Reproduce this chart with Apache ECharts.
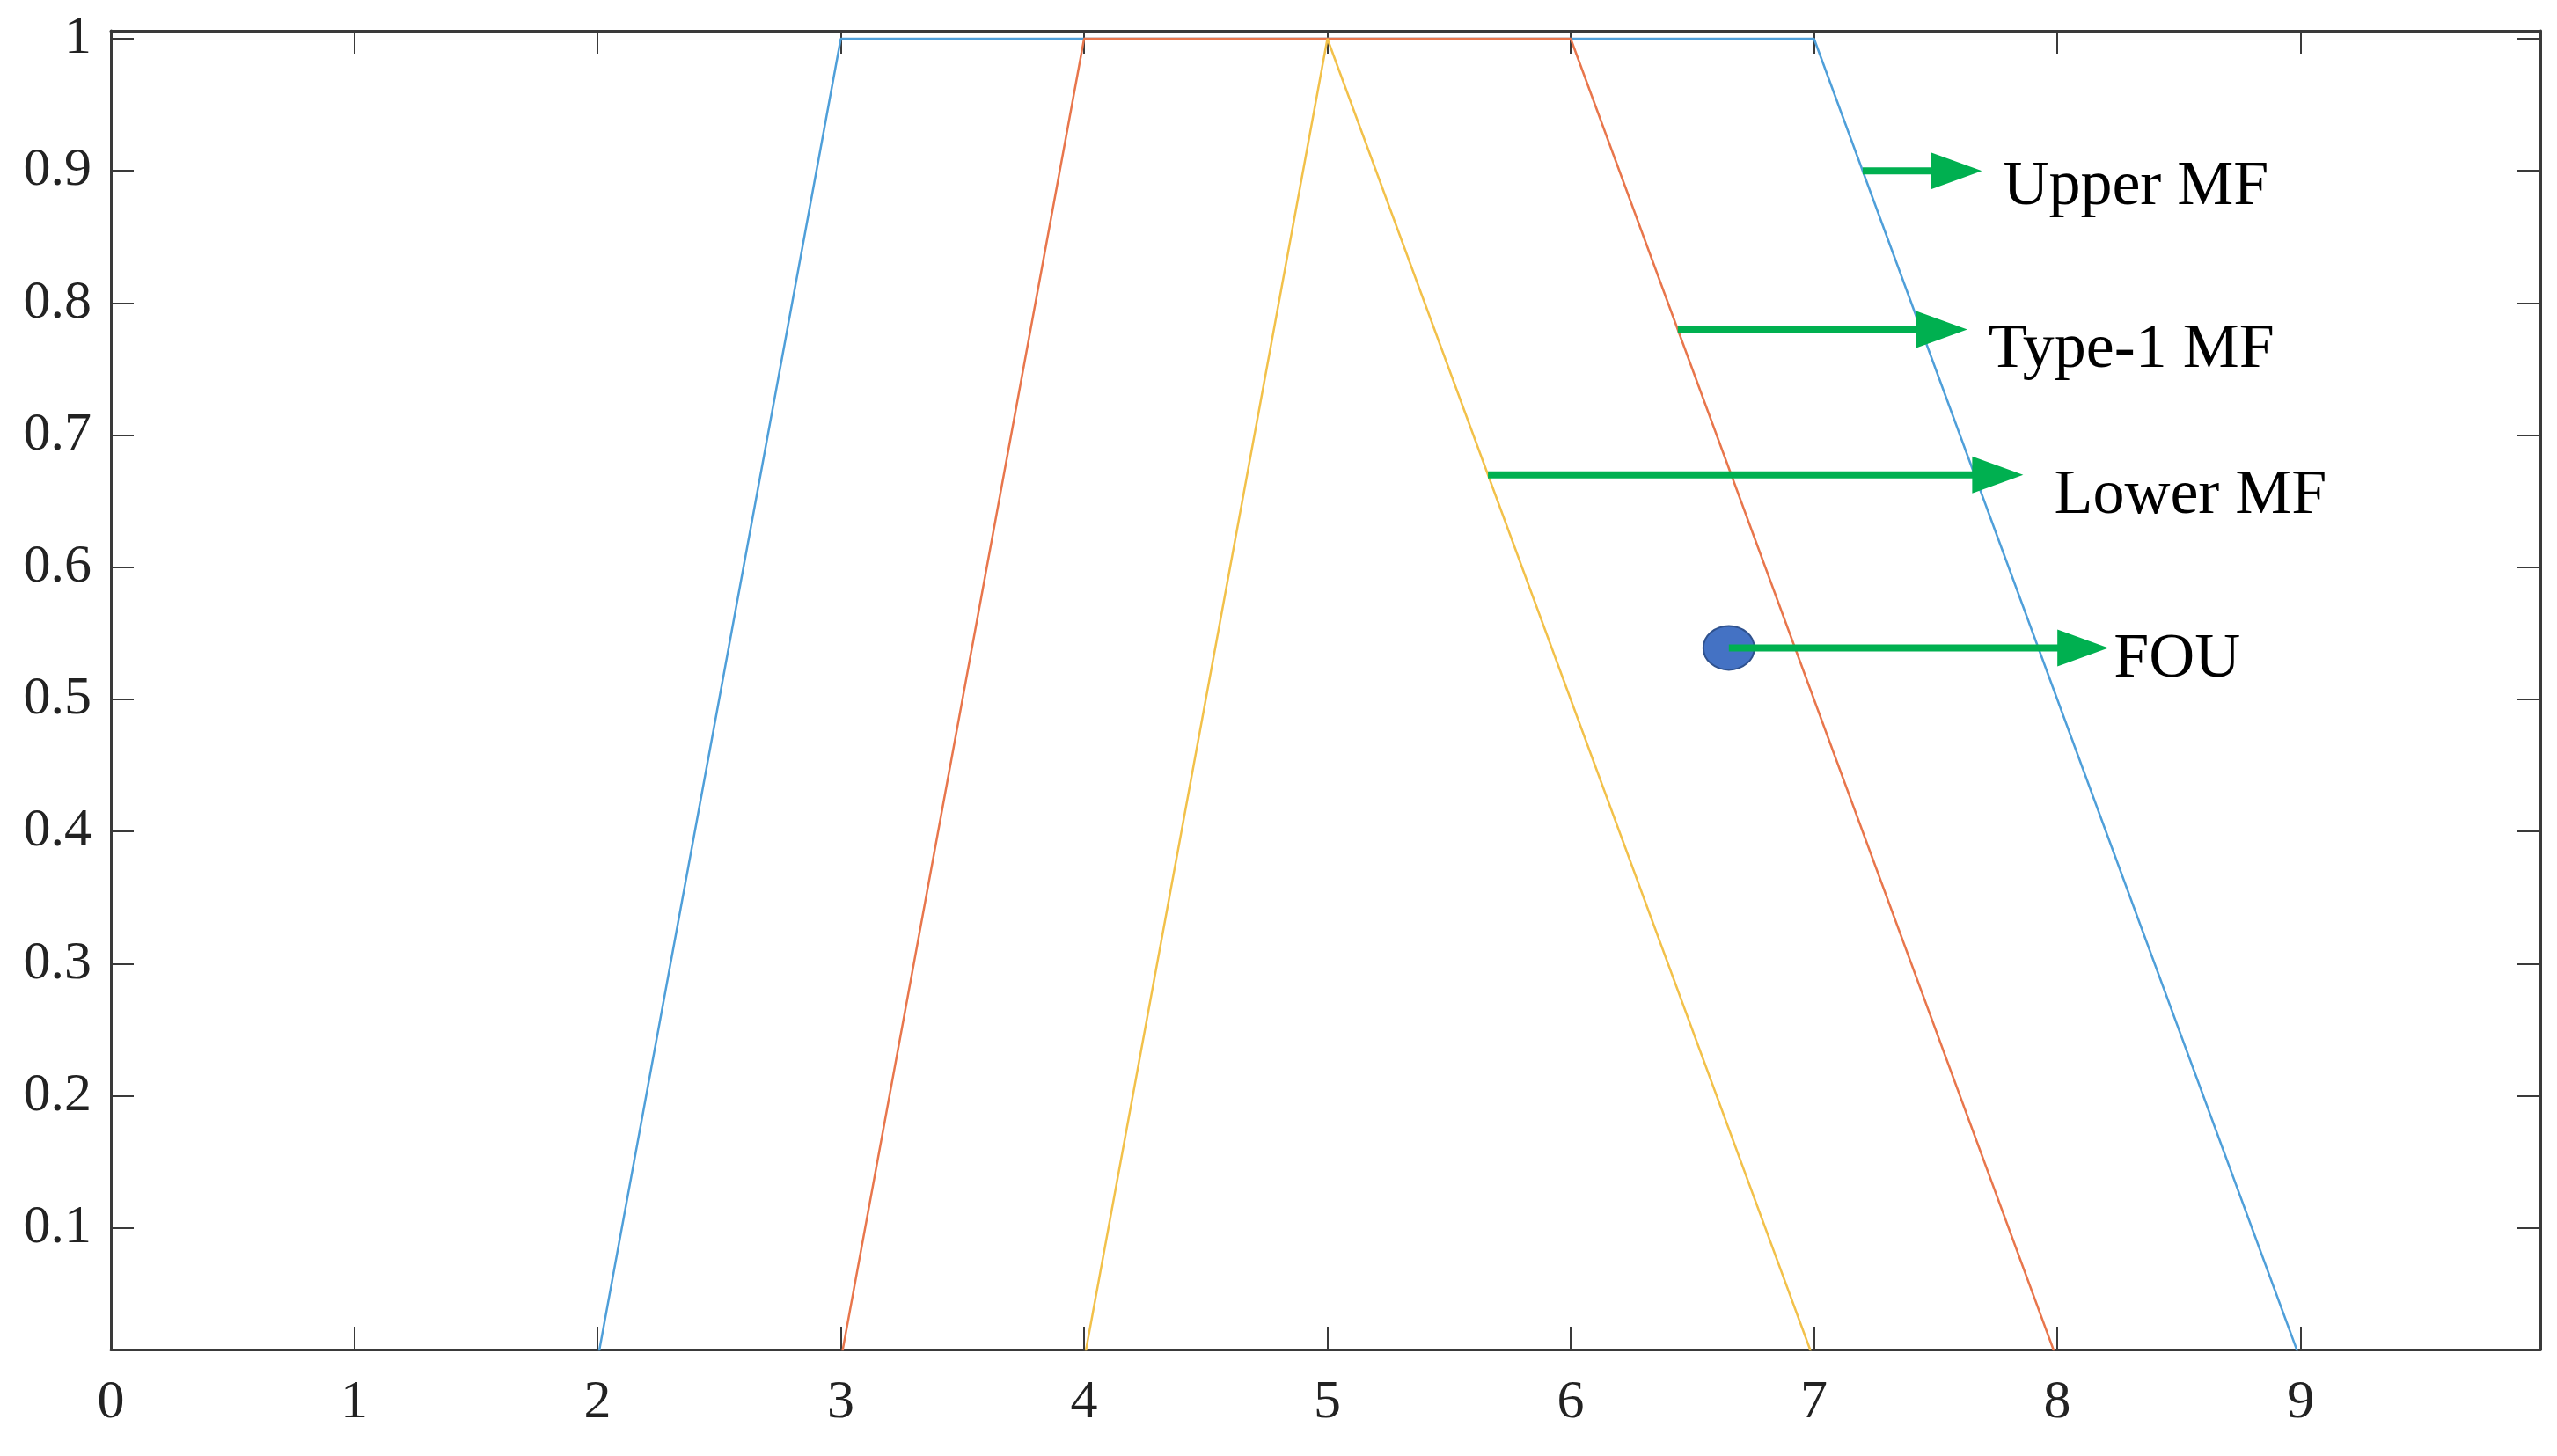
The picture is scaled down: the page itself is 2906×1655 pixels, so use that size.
<!DOCTYPE html>
<html>
<head>
<meta charset="utf-8">
<script src="https://cdn.jsdelivr.net/npm/echarts@6/dist/echarts.min.js"></script>
<style>html,body{margin:0;padding:0;background:#fff}#c{width:2906px;height:1655px}</style>
</head>
<body>
<div id="c"></div>
<script>
// Data
const xTicks = [0,1,2,3,4,5,6,7,8,9];
const yTicks = [0.1,0.2,0.3,0.4,0.5,0.6,0.7,0.8,0.9,1];
const upperMF = [[2,0],[3,1],[7,1],[9,0]];
const type1MF = [[3,0],[4,1],[6,1],[8,0]];
const lowerMF = [[4,0],[5,1],[7,0]];
const annoLabels = ['Upper MF','Type-1 MF','Lower MF','FOU'];
const annoY = [0.9, 0.78, 0.67, 0.539];
const annoX0 = [7.2, 6.44, 5.66, 6.65];
const annoX1 = [7.69, 7.63, 7.86, 8.21];

const FONT = '"Liberation Serif","Times New Roman",serif';
const AX = '#3a3a3a';

const chart = echarts.init(document.getElementById('c'), null, {renderer:'canvas'});
const fmt = v => (Math.abs(v-1)<1e-9 ? '1' : (+v.toFixed(1)).toString());

const baseX = {
  type:'value', min:0, max:9.985,
  axisLine:{show:true, onZero:false, lineStyle:{color:AX, width:3}},
  splitLine:{show:false}
};
const baseY = {
  type:'value', min:0.008, max:1.006,
  axisLine:{show:true, onZero:false, lineStyle:{color:AX, width:3}},
  splitLine:{show:false}
};

chart.setOption({
  animation:false,
  backgroundColor:'#fff',
  grid:{left:126, right:19, top:35, bottom:121, outerBoundsMode:'none'},
  xAxis:[
    Object.assign({}, baseX, {position:'bottom',
      axisTick:{show:true, inside:true, length:26, customValues:xTicks, lineStyle:{color:AX, width:2}},
      axisLabel:{show:true, customValues:xTicks, margin:30, fontFamily:FONT, fontSize:62, color:'#222',
        formatter:v=>String(v)}}),
    Object.assign({}, baseX, {position:'top',
      axisTick:{show:true, inside:true, length:26, customValues:xTicks, lineStyle:{color:AX, width:2}},
      axisLabel:{show:false}})
  ],
  yAxis:[
    Object.assign({}, baseY, {position:'left',
      axisTick:{show:true, inside:true, length:26, customValues:yTicks, lineStyle:{color:AX, width:2}},
      axisLabel:{show:true, customValues:yTicks, margin:22, fontFamily:FONT, fontSize:62, color:'#222',
        formatter:fmt}}),
    Object.assign({}, baseY, {position:'right',
      axisTick:{show:true, inside:true, length:26, customValues:yTicks, lineStyle:{color:AX, width:2}},
      axisLabel:{show:false}})
  ],
  series:[
    {type:'line', name:'Upper MF', data:upperMF, showSymbol:false, lineStyle:{color:'#4f9fd9', width:2.5}, z:2},
    {type:'line', name:'Type-1 MF', data:type1MF, showSymbol:false, lineStyle:{color:'#e8764c', width:2.5}, z:3},
    {type:'line', name:'Lower MF', data:lowerMF, showSymbol:false, lineStyle:{color:'#f2c14a', width:2.5}, z:4}
  ]
});

// Annotations (arrows, labels, FOU marker) anchored in data coordinates
const px = (x,y) => chart.convertToPixel({xAxisIndex:0, yAxisIndex:0}, [x,y]);
const gfx = [];
const GREEN = '#00b050';
const HEAD_L = 58, HEAD_H = 42;
annoLabels.forEach((lab,i)=>{
  const p0 = px(annoX0[i], annoY[i]);
  const p1 = px(annoX1[i], annoY[i]);
  if (lab === 'FOU') {
    gfx.push({type:'ellipse', shape:{cx:p0[0], cy:p0[1], rx:29, ry:25},
      style:{fill:'#4472c4', stroke:'#2f528f', lineWidth:2}, z:10});
  }
  gfx.push({type:'line', shape:{x1:p0[0], y1:p0[1], x2:p1[0]-HEAD_L+4, y2:p1[1]},
    style:{stroke:GREEN, lineWidth:8}, z:11});
  gfx.push({type:'polygon', shape:{points:[[p1[0]-HEAD_L,p1[1]-HEAD_H/2],[p1[0],p1[1]],[p1[0]-HEAD_L,p1[1]+HEAD_H/2]]},
    style:{fill:GREEN}, z:11});
  const gap = [24, 24, 35, 6][i];
  const dy = [19, 24, 24, 14][i];
  gfx.push({type:'text', x:p1[0]+gap, y:p1[1]+dy,
    style:{text:lab, font:'72px ' + FONT, fill:'#000', textAlign:'left', textVerticalAlign:'middle'}, z:12});
});
chart.setOption({graphic:gfx});
</script>
</body>
</html>
